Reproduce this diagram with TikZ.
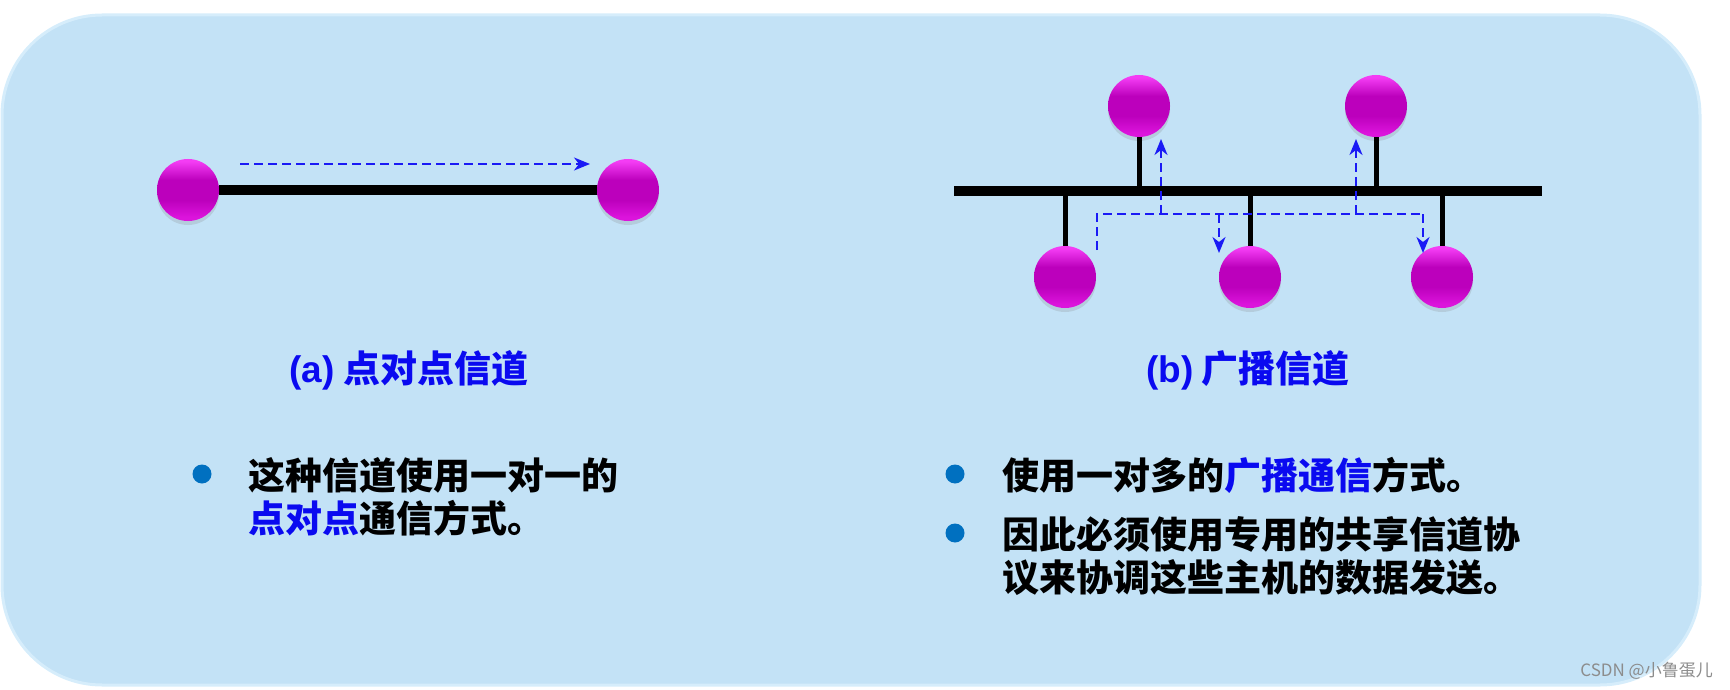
\documentclass[tikz,border=0pt]{standalone}
\usepackage{fontspec}
\usetikzlibrary{arrows.meta,shadows}
\newfontfamily\cjk{Noto Sans CJK SC}
\newfontfamily\latin{Liberation Sans}
\definecolor{PanelBlue}{HTML}{C3E2F6}
\definecolor{PanelRim}{HTML}{D6EDFB}
\definecolor{SignalBlue}{HTML}{1A1AF5}
\definecolor{TitleBlue}{HTML}{0A0AF0}
\definecolor{DotBlue}{HTML}{0070C0}
\definecolor{OrbTop}{HTML}{F43CF4}
\definecolor{OrbBody}{HTML}{BC00BC}
\definecolor{OrbLow}{HTML}{DC14DC}
\pgfdeclareverticalshading{orb}{100bp}{color(0bp)=(OrbLow); color(28bp)=(OrbLow); color(42bp)=(OrbBody); color(58bp)=(OrbBody); color(73bp)=(OrbTop); color(100bp)=(OrbTop)}

\begin{document}
\begin{tikzpicture}[x=1pt,y=-1pt,
    host/.style={circle,minimum size=62pt,inner sep=0pt,shading=orb,drop shadow={opacity=0.22,shadow xshift=0pt,shadow yshift=-4pt}},
    wire/.style={line width=10pt},
    stem/.style={line width=5pt},
    sig/.style={SignalBlue,line width=2pt,dash pattern=on 9pt off 5pt,-{Stealth[length=16pt,width=13pt,inset=5pt]}},
    bulletdot/.style={circle,fill=DotBlue,minimum size=19pt,inner sep=0pt},
    headline/.style={font=\cjk\bfseries\fontsize{37}{44}\selectfont,text=TitleBlue,inner sep=0pt},
    note/.style={font=\cjk\bfseries\fontsize{37}{43}\selectfont,inner sep=0pt,align=left,anchor=west}]
      \useasboundingbox (0,0) rectangle (1730,690);
      \path[fill=PanelBlue,draw=PanelRim,line width=3pt,rounded corners=100pt] (2,15) rectangle (1700,685);
      % point-to-point
      \node[host] (pa) at (188,190) {};
      \node[host] (pb) at (628,190) {};
      \draw[wire] (pa) -- (pb);
      \coordinate (la) at (240,164);
      \coordinate (lb) at (590,164);
      \draw[sig] (la) -- (lb);
      % broadcast
      \coordinate (busW) at (954,191);
      \coordinate (busE) at (1542,191);
      \draw[wire] (busW) -- (busE);
      \node[host] (ha) at (1139,106) {};
      \node[host] (hb) at (1376,106) {};
      \node[host] (hc) at (1065,277) {};
      \node[host] (hd) at (1250,277) {};
      \node[host] (he) at (1442,277) {};
      \foreach \h in {ha,hb,hc,hd,he}
        \draw[stem] (\h) -- (\h |- busW);
      \coordinate (src) at (1097,250);
      \coordinate (fork) at (1097,214);
      \coordinate (tipA) at (1161,139);
      \coordinate (tipB) at (1356,139);
      \coordinate (tipC) at (1219,253);
      \coordinate (tipD) at (1423,253);
      \draw[sig,-] (src) -- (fork) -- (tipD |- fork);
      \foreach \t in {tipA,tipB,tipC,tipD}
        \draw[sig] (\t |- fork) -- (\t);
      % captions and notes
      \node[headline] (capa) at (409,370) {{\latin (a)} 点对点信道};
      \node[headline] (capb) at (1248,370) {{\latin (b)} 广播信道};
      \node[bulletdot] (ba) at (202,474) {};
      \node[note] (notea) at (248,497) {这种信道使用一对一的\\{\color{TitleBlue}点对点}通信方式。};
      \node[bulletdot] (bb) at (955,474) {};
      \node[note] (noteb) at (1002,475) {使用一对多的{\color{TitleBlue}广播通信}方式。};
      \node[bulletdot] (bc) at (955,533) {};
      \node[note] (notec) at (1002,556) {因此必须使用专用的共享信道协\\议来协调这些主机的数据发送。};
      \node[font=\cjk\fontsize{17}{20}\selectfont,text=black!45,anchor=east,inner sep=0pt] (mark) at (1713,671) {CSDN @小鲁蛋儿};
    \end{tikzpicture}
\end{document}
